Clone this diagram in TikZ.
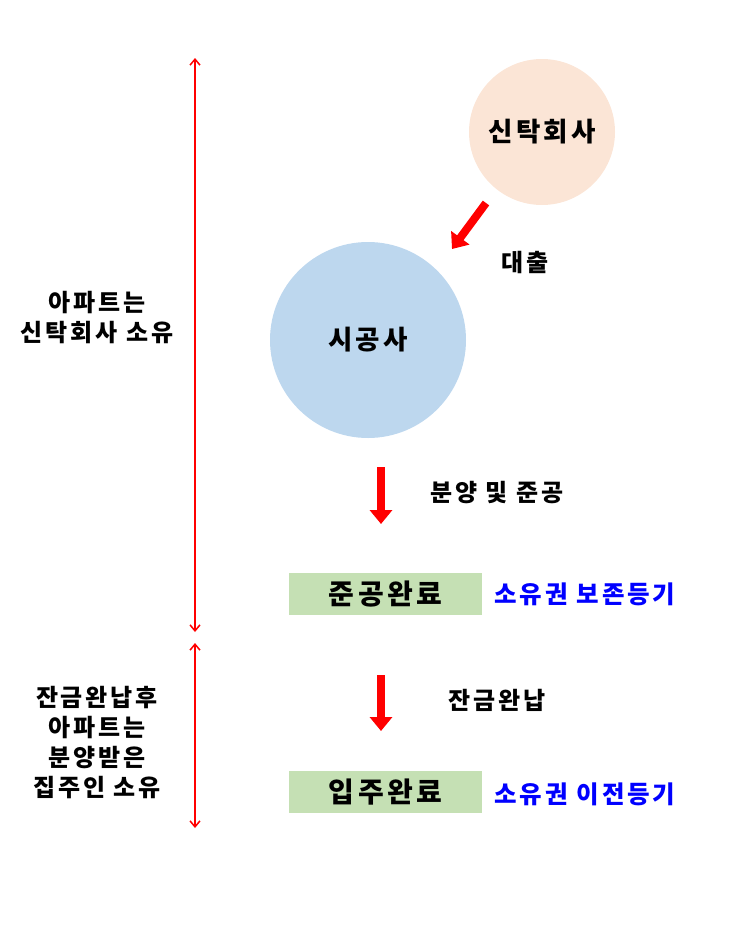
\documentclass[tikz,border=0pt]{standalone}
\usepackage{fontspec}
\setmainfont{Noto Sans CJK KR}[LetterSpace=12]
\usetikzlibrary{arrows.meta}
\definecolor{peach}{HTML}{FBE5D6}
\definecolor{lblue}{HTML}{BDD7EE}
\definecolor{lgreen}{HTML}{C5E0B4}
\definecolor{myblue}{HTML}{0000FF}
\tikzset{
 lab/.style={font=\fontsize{24}{30}\selectfont\bfseries, align=center, text=black},
 blab/.style={font=\fontsize{24.5}{24}\selectfont\bfseries, text=myblue},
 box/.style={fill=lgreen, minimum width=193pt, minimum height=42pt, font=\fontsize{28}{24}\selectfont\bfseries},
 circ/.style={circle, font=\fontsize{26.5}{24}\selectfont\bfseries},
 span/.style={red, line width=1.5pt, {Straight Barb[length=6pt,width=10pt]}-{Straight Barb[length=6pt,width=10pt]}},
 fat/.style={red, line width=8pt, -{Triangle[length=14pt,width=22pt]}},
}
\begin{document}
\begin{tikzpicture}[x=1pt,y=-1pt]
\useasboundingbox (0,0) rectangle (743,929);
\coordinate (s1) at (195,58); \coordinate (e1) at (195,632);
\coordinate (s2) at (195,643); \coordinate (e2) at (195,828);
\draw[span] (s1) -- (e1);
\draw[span] (s2) -- (e2);
\node[lab] (t1) at (97,318) {아파트는\\신탁회사 소유};
\node[lab] (t2) at (97,743) {잔금완납후\\아파트는\\분양받은\\집주인 소유};
\node[circ, fill=peach, minimum size=146pt] (trust) at (542,132) {신탁회사};
\node[circ, fill=lblue, minimum size=196pt] (con) at (368,340) {시공사};
\coordinate (a1) at (486,203); \coordinate (a2) at (452,249);
\draw[fat] (a1) -- (a2);
\node[lab] (loan) at (525,262) {대출};
\coordinate (b1) at (381,467); \coordinate (b2) at (381,524);
\draw[fat] (b1) -- (b2);
\node[lab] (l2) at (497,493) {분양 및 준공};
\node[box] (done) at (385.5,594) {준공완료};
\node[blab] (r1) at (585,594) {소유권 보존등기};
\coordinate (c1) at (381,675); \coordinate (c2) at (381,731);
\draw[fat] (c1) -- (c2);
\node[lab] (l3) at (497,700) {잔금완납};
\node[box] (move) at (385.5,792) {입주완료};
\node[blab] (r2) at (585,794) {소유권 이전등기};
\end{tikzpicture}
\end{document}
